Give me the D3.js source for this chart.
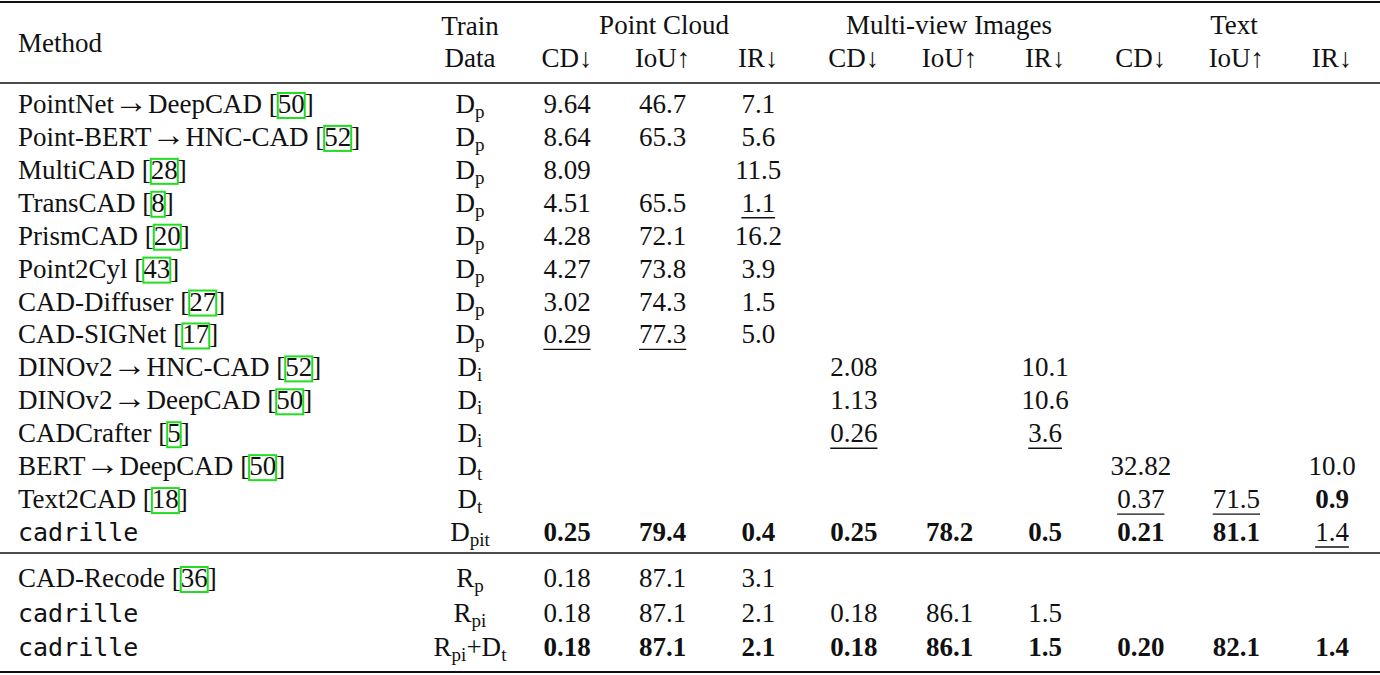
<!DOCTYPE html>
<html><head><meta charset="utf-8">
<script src="https://cdn.jsdelivr.net/npm/d3@7"></script>
<style>body{margin:0;background:#fff}text{font-family:"Liberation Serif","Times New Roman",serif;fill:#111}</style>
</head><body><svg id="chart" width="1380" height="675"></svg>
<script>
// table data
const methods = ["PointNet\u2192DeepCAD","Point-BERT\u2192HNC-CAD","MultiCAD","TransCAD","PrismCAD","Point2Cyl","CAD-Diffuser","CAD-SIGNet","DINOv2\u2192HNC-CAD","DINOv2\u2192DeepCAD","CADCrafter","BERT\u2192DeepCAD","Text2CAD","cadrille","CAD-Recode","cadrille","cadrille"];
const cites = ["50","52","28","8","20","43","27","17","52","50","5","50","18","","36","",""];
const trainData = ["D_p","D_p","D_p","D_p","D_p","D_p","D_p","D_p","D_i","D_i","D_i","D_t","D_t","D_pit","R_p","R_pi","R_pi+D_t"];
const groups = ["Point Cloud","Multi-view Images","Text"];
const metrics = ["CD\u2193","IoU\u2191","IR\u2193"];
const pcCD  = ["9.64","8.64","8.09","4.51","4.28","4.27","3.02","0.29","","","","","","0.25","0.18","0.18","0.18"];
const pcIoU = ["46.7","65.3","","65.5","72.1","73.8","74.3","77.3","","","","","","79.4","87.1","87.1","87.1"];
const pcIR  = ["7.1","5.6","11.5","1.1","16.2","3.9","1.5","5.0","","","","","","0.4","3.1","2.1","2.1"];
const mvCD  = ["","","","","","","","","2.08","1.13","0.26","","","0.25","","0.18","0.18"];
const mvIoU = ["","","","","","","","","","","","","","78.2","","86.1","86.1"];
const mvIR  = ["","","","","","","","","10.1","10.6","3.6","","","0.5","","1.5","1.5"];
const txCD  = ["","","","","","","","","","","","32.82","0.37","0.21","","","0.20"];
const txIoU = ["","","","","","","","","","","","","71.5","81.1","","","82.1"];
const txIR  = ["","","","","","","","","","","","10.0","0.9","1.4","","","1.4"];
const bold = [[12,8],[13,0],[13,1],[13,2],[13,3],[13,4],[13,5],[13,6],[13,7],[16,0],[16,1],[16,2],[16,3],[16,4],[16,5],[16,6],[16,7],[16,8]];
const under = [[7,0],[7,1],[3,2],[10,3],[10,5],[12,6],[12,7],[13,8]];

const columns = [pcCD,pcIoU,pcIR,mvCD,mvIoU,mvIR,txCD,txIoU,txIR];
const svg = d3.select("#chart");
const fs = 27;

// column positions
const xCol = d3.scaleLinear().domain([0,8]).range([567,1332]);
const xGroup = d3.scaleLinear().domain([0,2]).range([664,1234]);
// rows: two blocks
const yRow = i => i < 14 ? d3.scaleLinear().domain([0,13]).range([113,541])(i) : d3.scaleLinear().domain([14,16]).range([587,656])(i);

// rules
[[2,2.2],[83,1.3],[553,1.3],[672,2.2]].forEach(([y,w]) => {
  svg.append("line").attr("x1",0).attr("x2",1380).attr("y1",y).attr("y2",y).attr("stroke","#111").attr("stroke-width",w);
});

// header
svg.append("text").attr("x",18).attr("y",52).attr("font-size",fs).text("Method");
svg.append("text").attr("x",470).attr("y",35).attr("font-size",fs).attr("text-anchor","middle").text("Train");
svg.append("text").attr("x",470).attr("y",67).attr("font-size",fs).attr("text-anchor","middle").text("Data");
groups.forEach((g,i) => svg.append("text").attr("x",xGroup(i)).attr("y",34).attr("font-size",fs).attr("text-anchor","middle").text(g));
d3.range(9).forEach(c => svg.append("text").attr("x",xCol(c)).attr("y",67).attr("font-size",fs).attr("text-anchor","middle").text(metrics[c%3]));

// method names with citation boxes
methods.forEach((m,i) => {
  const y = yRow(i);
  if (m === "cadrille") {
    svg.append("text").attr("x",18).attr("y",y).attr("font-size",25).style("font-family","'DejaVu Sans Mono',monospace").text(m);
    return;
  }
  const t = svg.append("text").attr("x",18).attr("y",y).attr("font-size",fs);
  m.split("\u2192").forEach((p,k) => {
    if (k) t.append("tspan").attr("font-size",34).attr("dy",0).text("\u2192");
    t.append("tspan").text(p);
  });
  t.append("tspan").text(" [");
  let x = 18 + t.node().getComputedTextLength();
  const n = svg.append("text").attr("x",x).attr("y",y).attr("font-size",fs).text(cites[i]);
  const w = n.node().getComputedTextLength();
  svg.append("rect").attr("x",x).attr("y",y-20).attr("width",w).attr("height",25).attr("fill","none").attr("stroke","#22dd22").attr("stroke-width",2);
  svg.append("text").attr("x",x+w).attr("y",y).attr("font-size",fs).text("]");
});

// train data with subscripts
trainData.forEach((d,i) => {
  const t = svg.append("text").attr("x",470).attr("y",yRow(i)).attr("font-size",fs).attr("text-anchor","middle");
  d.split("+").forEach((part,k) => {
    const [base,sub] = part.split("_");
    t.append("tspan").attr("dy",k? -5:0).text((k?"+":"") + base);
    t.append("tspan").attr("font-size",19).attr("dy",5).text(sub);
  });
});

// values
const isIn = (arr,r,c) => arr.some(p => p[0]===r && p[1]===c);
columns.forEach((col,c) => col.forEach((v,r) => {
  if (!v) return;
  const t = svg.append("text").attr("x",xCol(c)).attr("y",yRow(r)).attr("font-size",fs).attr("text-anchor","middle")
    .attr("font-weight",isIn(bold,r,c)?"bold":"normal").text(v);
  if (isIn(under,r,c)) {
    const w = t.node().getComputedTextLength();
    svg.append("line").attr("x1",xCol(c)-w/2).attr("x2",xCol(c)+w/2).attr("y1",yRow(r)+6).attr("y2",yRow(r)+6).attr("stroke","#111").attr("stroke-width",1.3);
  }
}));
</script></body></html>
